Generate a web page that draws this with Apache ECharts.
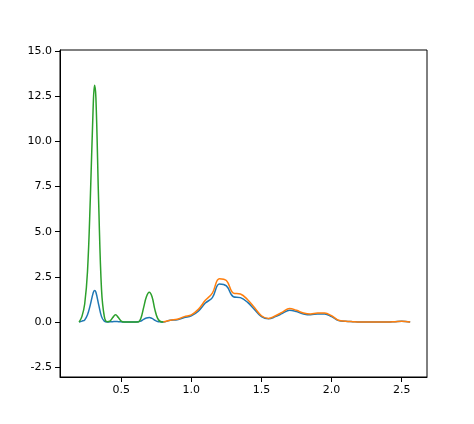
<!DOCTYPE html>
<html>
<head>
<meta charset="utf-8">
<script src="https://cdn.jsdelivr.net/npm/echarts@6/dist/echarts.min.js"></script>
<style>html,body{margin:0;padding:0;background:#fff}</style>
</head>
<body>
<div id="chart" style="width:474px;height:424px"></div>
<script>
const xLow = [0.20,0.22,0.24,0.26,0.28,0.30,0.31,0.32,0.34,0.36,0.38,0.40,0.42,0.44,0.46,0.48,0.50,0.52,0.56,0.60,0.62,0.64,0.66,0.68,0.70,0.72,0.74,0.76,0.78];
const greenY = [0,0.3,1.0,2.8,6.8,11.8,13.1,12.4,6.5,1.8,0.3,0.02,0.05,0.25,0.4,0.25,0.05,0,0,0,0,0.2,0.8,1.4,1.65,1.4,0.7,0.2,0.03];
const blueLowY = [0,0.05,0.12,0.4,0.95,1.6,1.75,1.65,0.95,0.3,0.05,0,0.01,0.02,0.03,0.02,0.01,0,0,0,0.02,0.05,0.15,0.22,0.25,0.2,0.1,0.03,0.01];
const xHigh = [0.80,0.85,0.90,0.95,1.00,1.05,1.10,1.15,1.20,1.25,1.30,1.35,1.40,1.45,1.50,1.55,1.60,1.65,1.70,1.75,1.80,1.85,1.90,1.95,2.00,2.05,2.10,2.15,2.20,2.30,2.40,2.45,2.50,2.56];
const orangeY = [0,0.1,0.15,0.3,0.4,0.7,1.2,1.6,2.4,2.3,1.6,1.55,1.25,0.8,0.35,0.2,0.35,0.55,0.75,0.65,0.5,0.45,0.5,0.5,0.35,0.1,0.05,0.02,0,0,0,0.02,0.05,0];
const blueHighY = [0,0.1,0.13,0.25,0.35,0.6,1.05,1.35,2.1,2.0,1.4,1.35,1.1,0.7,0.3,0.18,0.3,0.48,0.65,0.58,0.45,0.4,0.45,0.45,0.3,0.08,0.04,0.02,0,0,0,0.02,0.04,0];
const xTicks = [0.5,1.0,1.5,2.0,2.5];
const yTicks = [-2.5,0,2.5,5,7.5,10,12.5,15];

const pairs = (xs, ys) => xs.map((x, i) => [x, ys[i]]);
const blue = pairs(xLow, blueLowY).concat(pairs(xHigh, blueHighY));

const chart = echarts.init(document.getElementById("chart"));
const line = (data, color) => ({
  type: "line", data: data, smooth: 0.4, showSymbol: false,
  lineStyle: { color: color, width: 1.5 }, itemStyle: { color: color }
});
chart.setOption({
  animation: false,
  grid: { left: 60, right: 47, top: 50, bottom: 47, show: true, borderColor: "#000", borderWidth: 1 },
  xAxis: {
    type: "value", min: 0.064, max: 2.68,
    axisLine: { onZero: false, lineStyle: { color: "#000" } },
    axisTick: { customValues: xTicks, lineStyle: { color: "#000" } },
    axisLabel: { customValues: xTicks, color: "#000", fontSize: 11, fontFamily: "DejaVu Sans", formatter: v => v.toFixed(1) },
    splitLine: { show: false }
  },
  yAxis: {
    type: "value", min: -3.04, max: 15.05,
    axisLine: { show: true, lineStyle: { color: "#000" } },
    axisTick: { show: true, customValues: yTicks, lineStyle: { color: "#000" } },
    axisLabel: { customValues: yTicks, color: "#000", fontSize: 11, fontFamily: "DejaVu Sans", formatter: v => v.toFixed(1) },
    splitLine: { show: false }
  },
  series: [
    line(blue, "#1f77b4"),
    line(pairs(xHigh, orangeY), "#ff7f0e"),
    line(pairs(xLow.concat([0.80]), greenY.concat([0])), "#2ca02c")
  ]
});
</script>
</body>
</html>
